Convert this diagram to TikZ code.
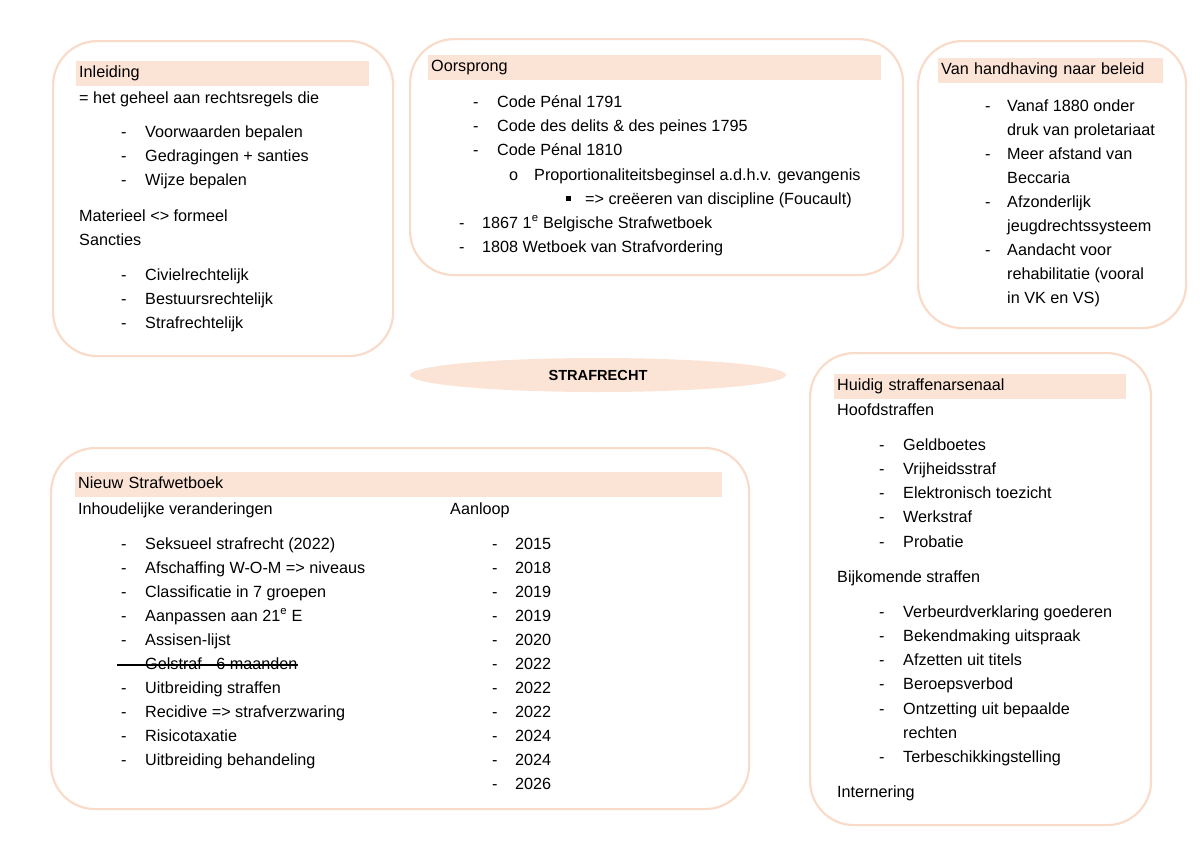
\documentclass[tikz,border=0pt]{standalone}
\usepackage{fontspec}
\setmainfont{Liberation Sans}
\usetikzlibrary{positioning,shapes.geometric,calc}
\definecolor{peach}{HTML}{FBE3D6}
\definecolor{peachline}{HTML}{F9DBCA}
\tikzset{
    box/.style={draw=peachline,line width=2.2pt,rounded corners=44pt,anchor=north west,inner sep=0pt},
    head/.style={fill=peach,anchor=west,inner xsep=3pt,inner ysep=0pt,minimum height=25pt,
        text height=11.7pt,text depth=3.4pt,text width=#1,align=left},
    txt/.style={anchor=base west,inner sep=0pt},
    hyph/.style={anchor=base west,inner sep=0pt}
}

\begin{document}
\begin{tikzpicture}[x=1pt,y=-1pt,font=\fontsize{16.2}{19}\selectfont]
    \useasboundingbox (0,0) rectangle (1200,849);

    % Inleiding
    \node[box,minimum width=340pt,minimum height=315pt] (inl) at (52,40) {};
    \node[head=287pt] (inl-head) at (76,73) {Inleiding};
    \node[txt] (inl-def) at (79,103) {= het geheel aan rechtsregels die};
    \foreach \t [count=\i] in {Voorwaarden bepalen,Gedragingen + santies,Wijze bepalen}{
        \node[hyph] (inl-d\i) at (121,{113+24*\i}) {-};
        \node[txt] (inl-t\i) at (145,{113+24*\i}) {\t};
    }
    \node[txt] (inl-mat) at (79,221) {Materieel <> formeel};
    \node[txt] (inl-san) at (79,245) {Sancties};
    \foreach \t [count=\i] in {Civielrechtelijk,Bestuursrechtelijk,Strafrechtelijk}{
        \node[hyph] (san-d\i) at (121,{256+24*\i}) {-};
        \node[txt] (san-t\i) at (145,{256+24*\i}) {\t};
    }

    % Oorsprong
    \node[box,minimum width=493pt,minimum height=236pt] (oor) at (409,38) {};
    \node[head=447pt] (oor-head) at (428,67.5) {Oorsprong};
    \foreach \t [count=\i] in {Code Pénal 1791,Code des delits \& des peines 1795,Code Pénal 1810}{
        \node[hyph] (oor-d\i) at (473,{83+24.2*\i}) {-};
        \node[txt] (oor-t\i) at (497,{83+24.2*\i}) {\t};
    }
    \node[txt] (oor-o) at (509,180) {o};
    \node[txt] (oor-prop) at (534,180) {Proportionaliteitsbeginsel a.d.h.v. gevangenis};
    \node[fill=black,minimum size=5pt,inner sep=0pt] (oor-sq) at (568,198) {};
    \node[txt] (oor-fou) at (585,204) {=> creëeren van discipline (Foucault)};
    \node[hyph] (oor-d4) at (459,228) {-};
    \node[txt] (oor-t4) at (482,228) {1867 1\textsuperscript{e} Belgische Strafwetboek};
    \node[hyph] (oor-d5) at (459,252) {-};
    \node[txt] (oor-t5) at (482,252) {1808 Wetboek van Strafvordering};

    % Van handhaving naar beleid
    \node[box,minimum width=268pt,minimum height=287pt] (vhb) at (917,40) {};
    \node[head=219pt] (vhb-head) at (938,70.5) {Van handhaving naar beleid};
    \foreach \d/\t [count=\i] in {-/Vanaf 1880 onder,/druk van proletariaat,-/Meer afstand van,/Beccaria,
        -/Afzonderlijk,/jeugdrechtssysteem,-/Aandacht voor,/rehabilitatie (vooral,/in VK en VS)}{
        \node[hyph] (vhb-d\i) at (985,{87+24*\i}) {\d};
        \node[txt] (vhb-t\i) at (1007,{87+24*\i}) {\t};
    }

    % centre
    \node[ellipse,fill=peach,minimum width=376pt,minimum height=34pt,inner sep=0pt,
        font=\fontsize{14.6}{17}\selectfont\bfseries] (core) at (598,375) {STRAFRECHT};

    % Nieuw Strafwetboek
    \node[box,minimum width=698pt,minimum height=361pt] (nsb) at (50,447) {};
    \node[head=641pt] (nsb-head) at (75,484.5) {Nieuw Strafwetboek};
    \node[txt] (nsb-inh) at (78,514) {Inhoudelijke veranderingen};
    \node[txt] (nsb-aan) at (450,514) {Aanloop};
    \foreach \t [count=\i] in {Seksueel strafrecht (2022),Afschaffing W-O-M => niveaus,Classificatie in 7 groepen,
        Aanpassen aan 21\textsuperscript{e} E,Assisen-lijst,Gelstraf - 6 maanden,Uitbreiding straffen,
        Recidive => strafverzwaring,Risicotaxatie,Uitbreiding behandeling}{
        \node[hyph] (nsb-d\i) at (121,{525+24*\i}) {-};
        \node[txt] (nsb-t\i) at (145,{525+24*\i}) {\t};
    }
    \draw[line width=1.3pt] ($(nsb-d6.base west)+(-4,-4)$) -- ($(nsb-t6.base east)+(0,-4)$);
    \foreach \t [count=\i] in {2015,2018,2019,2019,2020,2022,2022,2022,2024,2024,2026}{
        \node[hyph] (jr-d\i) at (492,{525+24*\i}) {-};
        \node[txt] (jr-t\i) at (515,{525+24*\i}) {\t};
    }

    % Huidig straffenarsenaal
    \node[box,minimum width=341pt,minimum height=472pt] (hsa) at (809,352) {};
    \node[head=286pt] (hsa-head) at (834,386) {Huidig straffenarsenaal};
    \node[txt] (hsa-hoofd) at (837,415) {Hoofdstraffen};
    \foreach \t [count=\i] in {Geldboetes,Vrijheidsstraf,Elektronisch toezicht,Werkstraf,Probatie}{
        \node[hyph] (hfd-d\i) at (879,{426+24.2*\i}) {-};
        \node[txt] (hfd-t\i) at (903,{426+24.2*\i}) {\t};
    }
    \node[txt] (hsa-bijk) at (837,582) {Bijkomende straffen};
    \foreach \d/\t [count=\i] in {-/Verbeurdverklaring goederen,-/Bekendmaking uitspraak,-/Afzetten uit titels,
        -/Beroepsverbod,-/Ontzetting uit bepaalde,/rechten,-/Terbeschikkingstelling}{
        \node[hyph] (bijk-d\i) at (879,{593+24.2*\i}) {\d};
        \node[txt] (bijk-t\i) at (903,{593+24.2*\i}) {\t};
    }
    \node[txt] (hsa-int) at (837,797) {Internering};
\end{tikzpicture}
\end{document}
